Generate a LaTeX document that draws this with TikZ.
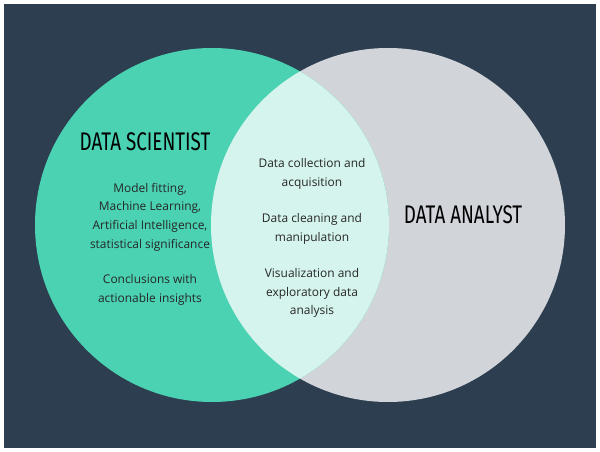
\documentclass[tikz,border=0pt]{standalone}
\usepackage{fontspec}
\setmainfont{Open Sans}
\newfontfamily\titlefont{Fira Sans}
\definecolor{bgdark}{HTML}{2C3E50}
\definecolor{sciteal}{HTML}{4AD2B2}
\definecolor{anagray}{HTML}{D1D4D9}
\definecolor{overlap}{HTML}{D5F4ED}
\tikzset{
  title/.style={font=\titlefont\fontsize{14.5}{16}\selectfont, text=black, xscale=0.74, transform shape},
  body/.style={font=\fontsize{6.8}{10.6}\selectfont, align=center, text=black!85}
}
\begin{document}
\begin{tikzpicture}[x=0.02cm, y=-0.02cm]
\fill[white] (0,0) rectangle (600,452);
\fill[bgdark] (4,4) rectangle (596,448);
% circles
\fill[anagray] (388,225) circle[radius=177];
\fill[sciteal] (212,225) circle[radius=177];
\begin{scope}
\clip (212,225) circle[radius=177];
\fill[overlap] (388,225) circle[radius=177];
\end{scope}
% labels
\node[title] (sci) at (145,142) {DATA SCIENTIST};
\node[title] (ana) at (463,215) {DATA ANALYST};
\node[body] (scia) at (150,217) {Model fitting,\\Machine Learning,\\Artificial Intelligence,\\statistical significance};
\node[body] (scib) at (150,290) {Conclusions with\\actionable insights};
\node[body] (mida) at (312,174) {Data collection and\\acquisition};
\node[body] (midb) at (312,229) {Data cleaning and\\manipulation};
\node[body] (midc) at (312,293) {Visualization and\\exploratory data\\analysis};
\end{tikzpicture}
\end{document}
